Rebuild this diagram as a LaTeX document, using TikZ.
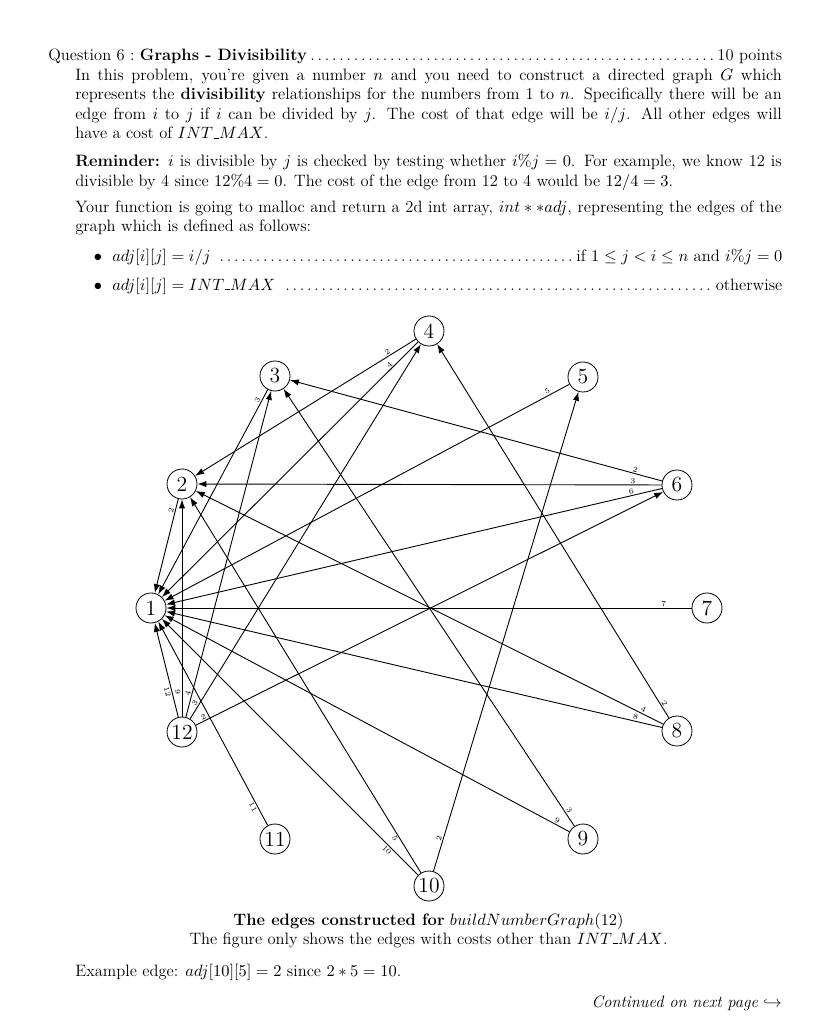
\documentclass[tikz,border=0pt]{standalone}
\usepackage{amsmath,amssymb}
\usetikzlibrary{arrows.meta}
\newcommand{\lowbar}{\kern.06em\vbox{\hrule width.3em}}
\begin{document}
\begin{tikzpicture}[
  x=0.6667pt, y=-0.6667pt,
  every node/.style={font=\fontsize{11}{13.6}\selectfont},
  txtline/.style={anchor=base west, inner sep=0pt},
  vnode/.style={circle, draw, line width=0.55pt, minimum size=20pt, inner sep=0pt, font=\fontsize{14.4}{17}\selectfont},
  divedge/.style={line width=0.6pt, -{Latex[length=6pt,width=4.2pt]}},
  cost/.style={sloped, inner sep=0.8pt, font=\fontsize{5}{6}\selectfont}
]
  \useasboundingbox (0,0) rectangle (822,1016);

  % === TESTO DELLA DOMANDA ===
  \node[txtline] (qhead) at (48,60) {\makebox[489.3pt]{Question 6 :~\textbf{Graphs - Divisibility}\dotfill 10 points}};
  \node[txtline] (p1a) at (75,80) {\makebox[471pt][s]{In this problem, you're given a number $n$ and you need to construct a directed graph $G$ which}};
  \node[txtline] (p1b) at (75,99.5) {\makebox[471pt][s]{represents the \textbf{divisibility} relationships for the numbers from 1 to $n$. Specifically there will be an}};
  \node[txtline] (p1c) at (75,119) {\makebox[471pt][s]{edge from $i$ to $j$ if $i$ can be divided by $j$. The cost of that edge will be $i/j$. All other edges will}};
  \node[txtline] (p1d) at (75,138.5) {have a cost of $INT\lowbar MAX$.};
  \node[txtline] (p2a) at (75,166.5) {\makebox[471pt][s]{\textbf{Reminder:} $i$ is divisible by $j$ is checked by testing whether $i\%j=0$. For example, we know 12 is}};
  \node[txtline] (p2b) at (75,186) {divisible by 4 since $12\%4=0$. The cost of the edge from 12 to 4 would be $12/4=3$.};
  \node[txtline] (p3a) at (75,212) {\makebox[471pt][s]{Your function is going to malloc and return a 2d int array, $int**adj$, representing the edges of the}};
  \node[txtline] (p3b) at (75,231.5) {graph which is defined as follows:};

  % Elenco
  \node[anchor=base, inner sep=0pt] (dot1) at (98,261) {$\bullet$};
  \node[txtline] (item1) at (112,261) {\makebox[446.7pt]{$adj[i][j]=i/j$ \dotfill if $1\le j<i\le n$ and $i\%j=0$}};
  \node[anchor=base, inner sep=0pt] (dot2) at (98,290) {$\bullet$};
  \node[txtline] (item2) at (112,290) {\makebox[446.7pt]{$adj[i][j]=INT\lowbar MAX$ \dotfill otherwise}};

  % === GRAFO ===
  \node[vnode] (n1) at (151,608) {1};
  \node[vnode] (n2) at (182,484) {2};
  \node[vnode] (n3) at (275,376) {3};
  \node[vnode] (n4) at (429,331) {4};
  \node[vnode] (n5) at (583,377) {5};
  \node[vnode] (n6) at (677,485) {6};
  \node[vnode] (n7) at (707,608) {7};
  \node[vnode] (n8) at (677,731) {8};
  \node[vnode] (n9) at (583,839) {9};
  \node[vnode] (n10) at (429,886) {10};
  \node[vnode] (n11) at (275,839) {11};
  \node[vnode] (n12) at (182,732) {12};

  % Archi i -> j con costo i/j
  \draw[divedge] (n2) -- node[cost, pos=0.13, above] {2} (n1);
  \draw[divedge] (n3) -- node[cost, pos=0.06, above] {3} (n1);
  \draw[divedge] (n4) -- node[cost, pos=0.12, above] {2} (n2);
  \draw[divedge] (n4) -- node[cost, pos=0.10, above] {4} (n1);
  \draw[divedge] (n5) -- node[cost, pos=0.05, above] {5} (n1);
  \draw[divedge] (n6) -- node[cost, pos=0.075, above] {2} (n3);
  \draw[divedge] (n6) -- node[cost, pos=0.062, above] {3} (n2);
  \draw[divedge] (n6) -- node[cost, pos=0.06, above] {6} (n1);
  \draw[divedge] (n7) -- node[cost, pos=0.053, above] {7} (n1);
  \draw[divedge] (n8) -- node[cost, pos=0.034, above] {2} (n4);
  \draw[divedge] (n8) -- node[cost, pos=0.046, above] {4} (n2);
  \draw[divedge] (n8) -- node[cost, pos=0.055, above] {8} (n1);
  \draw[divedge] (n9) -- node[cost, pos=0.03, above] {3} (n3);
  \draw[divedge] (n9) -- node[cost, pos=0.035, above] {9} (n1);
  \draw[divedge] (n10) -- node[cost, pos=0.11, below] {10} (n1);
  \draw[divedge] (n10) -- node[cost, pos=0.097, below] {5} (n2);
  \draw[divedge] (n10) -- node[cost, pos=0.066, above] {2} (n5);
  \draw[divedge] (n11) -- node[cost, pos=0.10, below] {11} (n1);
  \draw[divedge] (n12) -- node[cost, pos=0.28, below] {12} (n1);
  \draw[divedge] (n12) -- node[cost, pos=0.115, above] {6} (n2);
  \draw[divedge] (n12) -- node[cost, pos=0.07, above] {4} (n3);
  \draw[divedge] (n12) -- node[cost, pos=0.036, above] {3} (n4);
  \draw[divedge] (n12) -- node[cost, pos=0.02, above] {2} (n6);

  % === DIDASCALIA ===
  \node[anchor=base, inner sep=0pt] (cap1) at (428.5,925) {\textbf{The edges constructed for} $buildNumberGraph(12)$};
  \node[anchor=base, inner sep=0pt] (cap2) at (428.5,944) {The figure only shows the edges with costs other than $INT\lowbar MAX$.};
  \node[txtline] (example) at (75,976) {Example edge: $adj[10][5]=2$ since $2*5=10$.};
  \node[anchor=base east, inner sep=0pt] (cont) at (782,1007) {\textit{Continued on next page} $\hookrightarrow$};
\end{tikzpicture}
\end{document}
